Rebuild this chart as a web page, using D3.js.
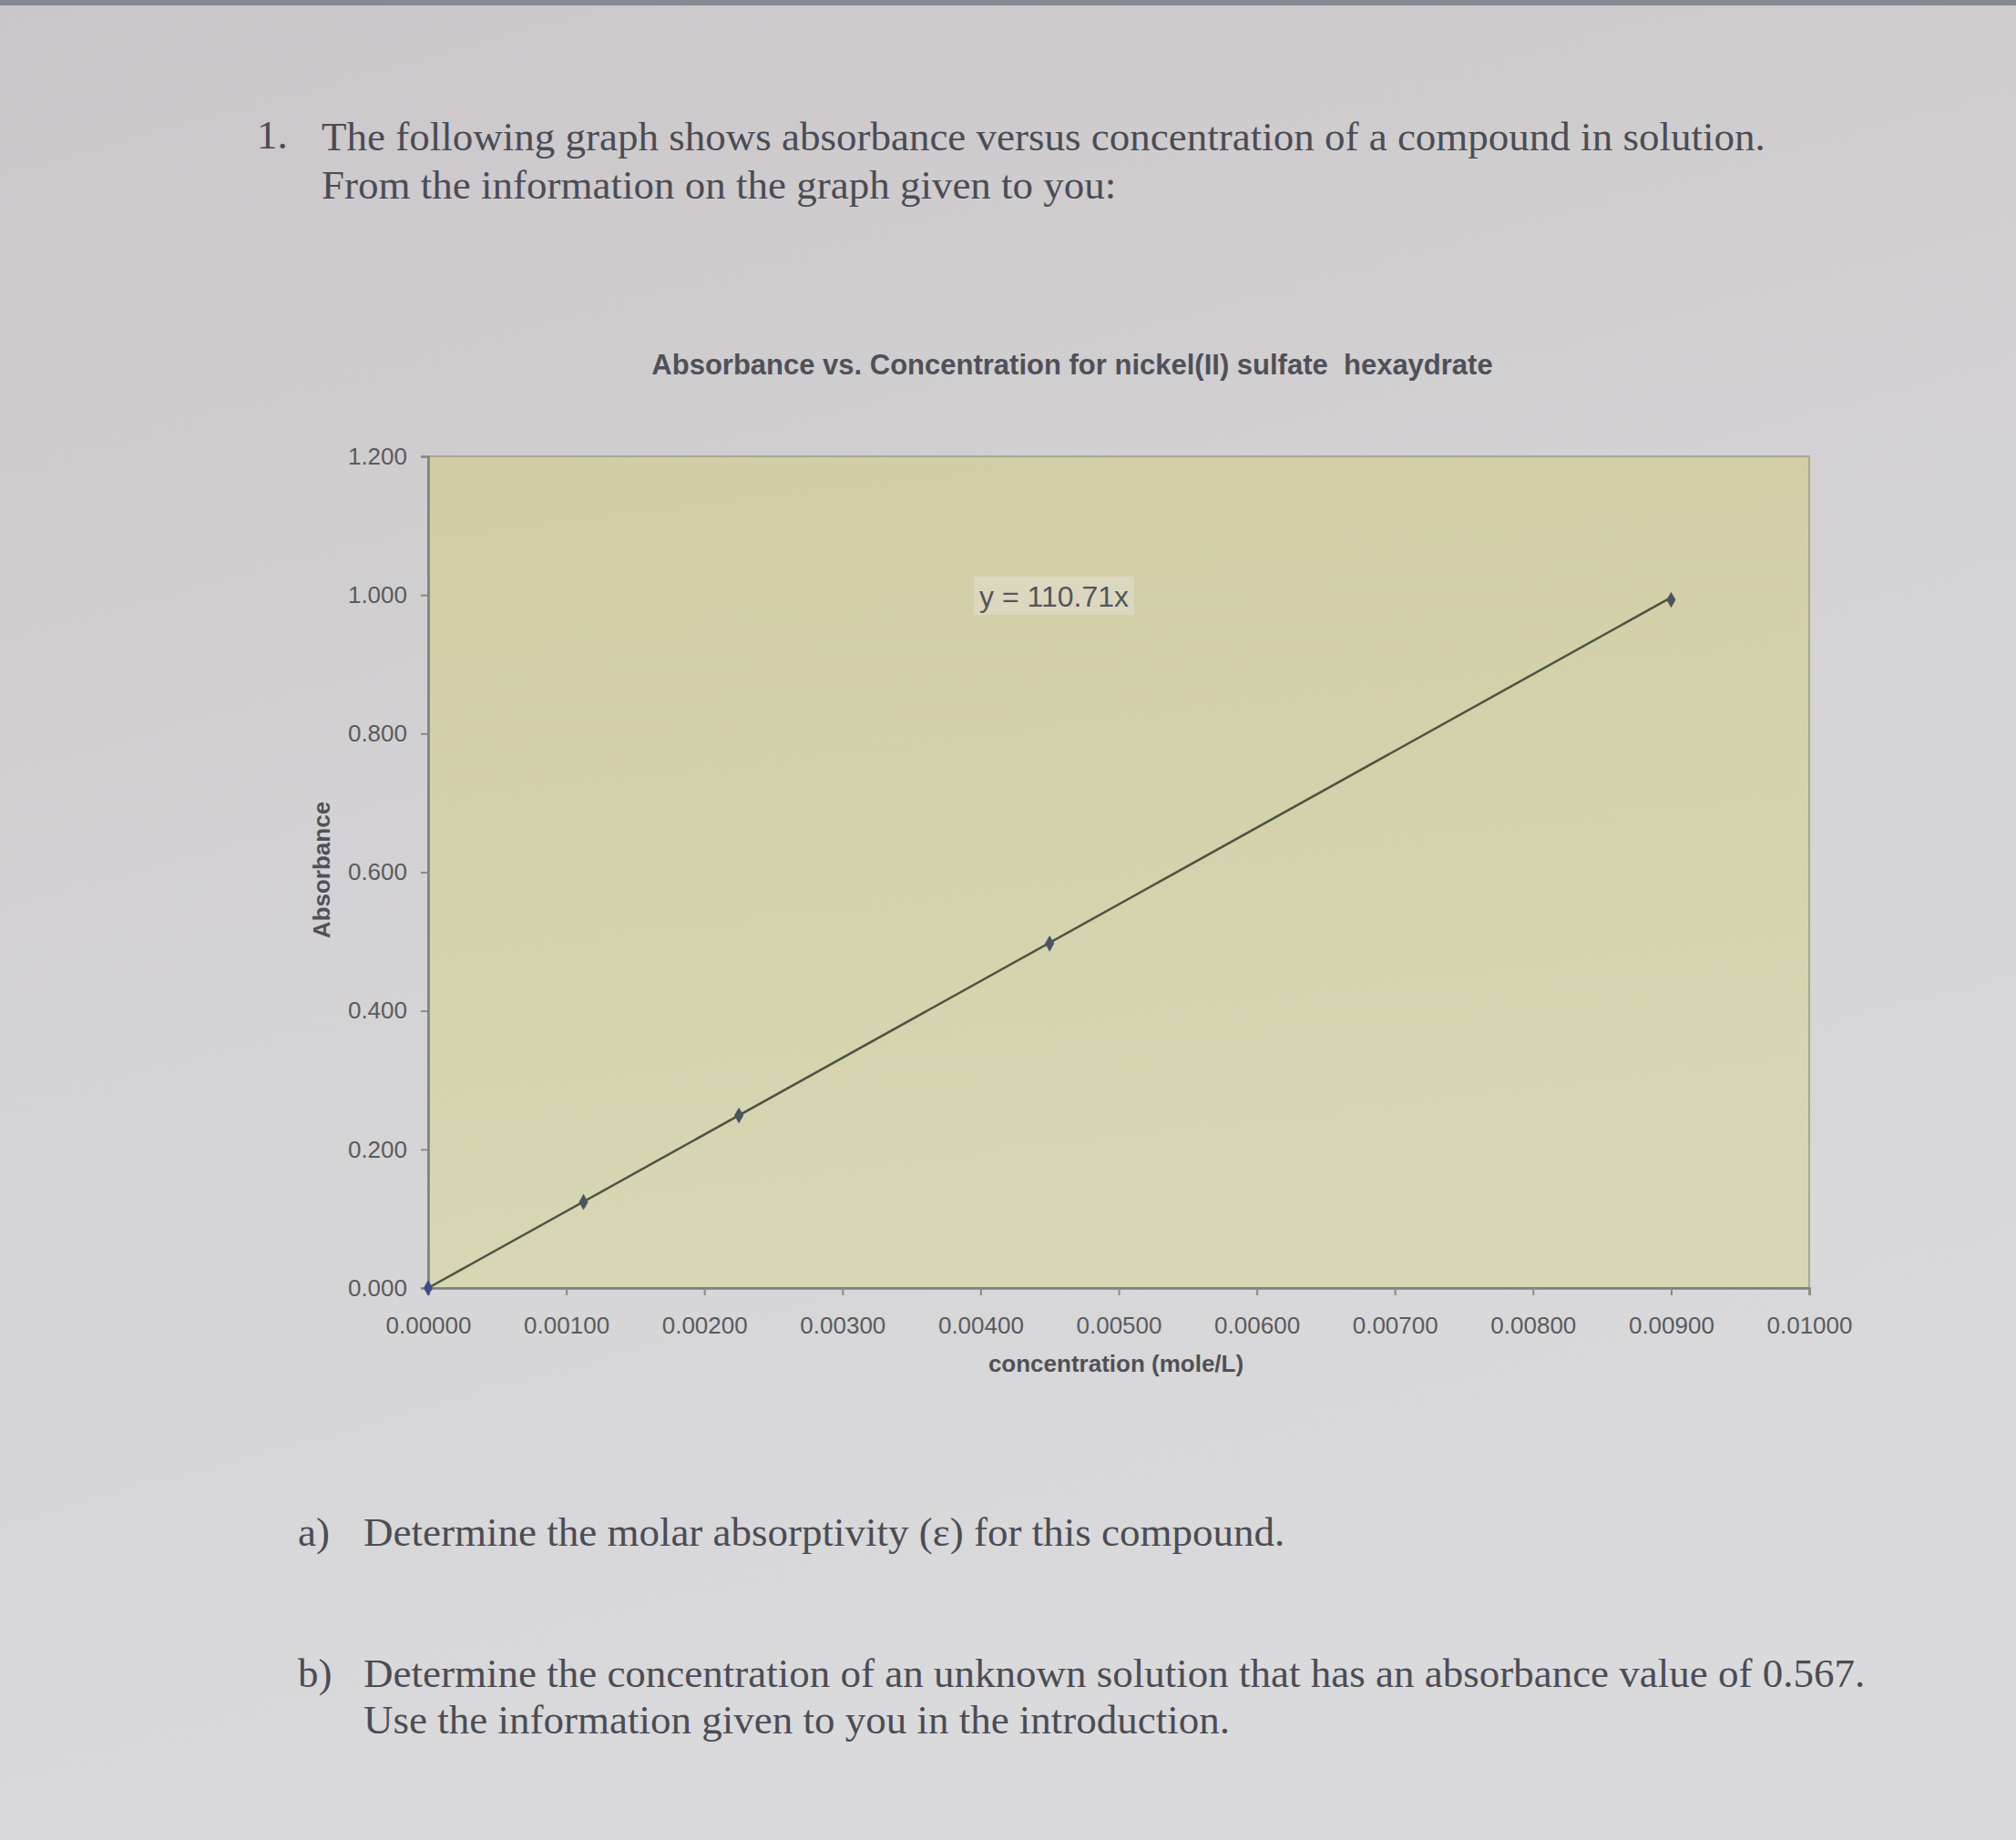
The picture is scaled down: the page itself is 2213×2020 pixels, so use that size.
<!DOCTYPE html>
<html>
<head>
<meta charset="utf-8">
<script src="https://cdn.jsdelivr.net/npm/d3@7"></script>
<style>
  html, body { margin: 0; padding: 0; background: #d4d2d4; }
  svg { display: block; }
  text { white-space: pre; }
</style>
</head>
<body>
<svg id="page" width="2213" height="2020"></svg>
<script>
// data
const concentration = [0, 0.001125, 0.00225, 0.0045, 0.009];
const absorbance = [0, 0.124, 0.249, 0.497, 0.993];
const xTicks = [0, 0.001, 0.002, 0.003, 0.004, 0.005, 0.006, 0.007, 0.008, 0.009, 0.010];
const yTicks = [0, 0.2, 0.4, 0.6, 0.8, 1.0, 1.2];
const slope = 110.71;

const chartTitle = 'Absorbance vs. Concentration for nickel(II) sulfate  hexaydrate';
const questionLines = [
    'The following graph shows absorbance versus concentration of a compound in solution.',
    'From the information on the graph given to you:'
];

const W = 2213, H = 2020;
const plot = { left: 470, right: 1986, top: 501, bottom: 1414 };

const svg = d3.select('#page');
const defs = svg.append('defs');

const bg = defs.append('linearGradient').attr('id', 'bg')
    .attr('x1', 0).attr('y1', 0).attr('x2', 0.3).attr('y2', 1);
bg.append('stop').attr('offset', '0%').attr('stop-color', '#cbc6c9');
bg.append('stop').attr('offset', '45%').attr('stop-color', '#d3d1d3');
bg.append('stop').attr('offset', '100%').attr('stop-color', '#dadadc');

const plotBg = defs.append('linearGradient').attr('id', 'plotbg')
    .attr('x1', 0).attr('y1', 0).attr('x2', 0.2).attr('y2', 1);
plotBg.append('stop').attr('offset', '0%').attr('stop-color', '#d0cda4');
plotBg.append('stop').attr('offset', '100%').attr('stop-color', '#d8d7b4');

svg.append('rect').attr('width', W).attr('height', H).attr('fill', 'url(#bg)');
svg.append('rect').attr('width', W).attr('height', 6).attr('fill', '#858a95');

// question text
const serif = '"Liberation Serif", "Times New Roman", serif';
const qSize = 45;
svg.append('text')
    .attr('x', 282).attr('y', 163)
    .attr('font-family', serif).attr('font-size', qSize)
    .attr('fill', '#4c4c55')
    .text('1.');
svg.selectAll('.q')
    .data(questionLines)
    .enter().append('text')
    .attr('class', 'q')
    .attr('x', 353)
    .attr('y', (d, i) => 165 + i * 53)
    .attr('font-family', serif).attr('font-size', qSize)
    .attr('fill', '#4c4c55')
    .text(d => d);

// chart
const x = d3.scaleLinear().domain([0, 0.01]).range([plot.left, plot.right]);
const y = d3.scaleLinear().domain([0, 1.2]).range([plot.bottom, plot.top]);

svg.append('rect')
    .attr('x', plot.left).attr('y', plot.top)
    .attr('width', plot.right - plot.left).attr('height', plot.bottom - plot.top)
    .attr('fill', 'url(#plotbg)')
    .attr('stroke', '#a9a88e').attr('stroke-width', 2);

const sans = '"Liberation Sans", Arial, sans-serif';

const xAxis = svg.append('g')
    .attr('transform', `translate(0,${plot.bottom})`)
    .call(d3.axisBottom(x).tickValues(xTicks).tickFormat(d3.format('.5f')).tickSize(8).tickPadding(24));
const yAxis = svg.append('g')
    .attr('transform', `translate(${plot.left},0)`)
    .call(d3.axisLeft(y).tickValues(yTicks).tickFormat(d3.format('.3f')).tickSize(8).tickPadding(15));

[xAxis, yAxis].forEach(g => {
    g.select('.domain').attr('stroke', '#7d7f78').attr('stroke-width', 2.5);
    g.selectAll('.tick line').attr('stroke', '#8a8a86').attr('stroke-width', 2);
    g.selectAll('.tick text')
        .attr('font-family', sans).attr('font-size', 26)
        .attr('fill', '#5a5a60');
});

svg.append('text')
    .attr('x', 1177).attr('y', 411)
    .attr('text-anchor', 'middle')
    .attr('font-family', sans).attr('font-size', 31).attr('font-weight', 'bold')
    .attr('fill', '#505058')
    .text(chartTitle);

svg.append('text')
    .attr('x', 1225).attr('y', 1506)
    .attr('text-anchor', 'middle')
    .attr('font-family', sans).attr('font-size', 26).attr('font-weight', 'bold')
    .attr('fill', '#505058')
    .text('concentration (mole/L)');

svg.append('text')
    .attr('transform', 'translate(362,955) rotate(-90)')
    .attr('text-anchor', 'middle')
    .attr('font-family', sans).attr('font-size', 26).attr('font-weight', 'bold')
    .attr('fill', '#505058')
    .text('Absorbance');

// trend line through origin
const xMax = d3.max(concentration);
svg.append('line')
    .attr('x1', x(0)).attr('y1', y(0))
    .attr('x2', x(xMax)).attr('y2', y(slope * xMax))
    .attr('stroke', '#4c5443').attr('stroke-width', 2.5);

const pts = concentration.map((c, i) => [c, absorbance[i]]);
svg.selectAll('.pt')
    .data(pts)
    .enter().append('path')
    .attr('class', 'pt')
    .attr('transform', d => `translate(${x(d[0])},${y(d[1])})`)
    .attr('d', d3.symbol(d3.symbolDiamond, 90))
    .attr('fill', (d, i) => i === 0 ? '#3b4f8a' : '#4a5560');

// equation label
const eq = svg.append('g').attr('transform', `translate(1157,655)`);
eq.append('rect')
    .attr('x', -88).attr('y', -22).attr('width', 176).attr('height', 42)
    .attr('fill', '#dbd8bf');
eq.append('text')
    .attr('text-anchor', 'middle').attr('dy', '0.35em')
    .attr('font-family', sans).attr('font-size', 32)
    .attr('fill', '#55555c')
    .text(`y = ${slope}x`);

// parts a) and b)
const parts = [
    { label: 'a)', lines: ['Determine the molar absorptivity (ε) for this compound.'], y: 1697 },
    { label: 'b)', lines: ['Determine the concentration of an unknown solution that has an absorbance value of 0.567.',
                           'Use the information given to you in the introduction.'], y: 1852 }
];
parts.forEach(p => {
    svg.append('text')
        .attr('x', 327).attr('y', p.y)
        .attr('font-family', serif).attr('font-size', qSize).attr('fill', '#4c4c55')
        .text(p.label);
    p.lines.forEach((l, i) => {
        svg.append('text')
            .attr('x', 399).attr('y', p.y + i * 51)
            .attr('font-family', serif).attr('font-size', qSize).attr('fill', '#4c4c55')
            .text(l);
    });
});
</script>
</body>
</html>
